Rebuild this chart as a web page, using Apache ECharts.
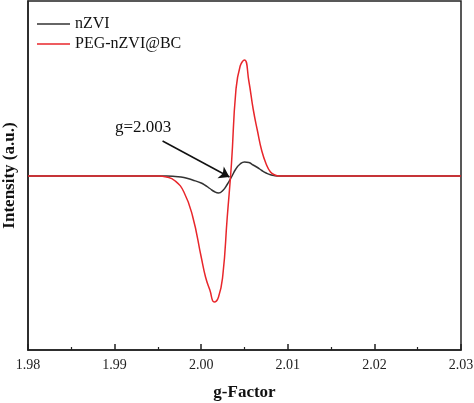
<!DOCTYPE html>
<html>
<head>
<meta charset="utf-8">
<script src="https://cdn.jsdelivr.net/npm/echarts@6/dist/echarts.min.js"></script>
<style>
  html, body { margin: 0; padding: 0; background: #fff; }
  #chart { width: 474px; height: 403px; }
</style>
</head>
<body>
<div id="chart"></div>
<script>
  // g values (x) and EPR intensities (arbitrary units)
  const gValues = [1.98, 1.99, 1.995, 1.996, 1.997, 1.998, 1.999, 2.000, 2.0005, 2.001, 2.0015, 2.002,
    2.0025, 2.003, 2.0035, 2.004, 2.0045, 2.005, 2.0055, 2.006, 2.0065, 2.007,
    2.0075, 2.008, 2.0085, 2.009, 2.01, 2.02, 2.03];
  const nZVI = [0, 0, 0, 0, -0.5, -1.5, -4, -7, -9.5, -12.5, -15.5, -17,
    -14.5, -8.5, -1, 7, 12, 14, 13.5, 11, 8.5, 5.5,
    3, 1.2, 0.3, 0, 0, 0, 0];
  const pegNZVI = [0, 0, 0, -1, -5, -16, -40, -81, -101, -114, -126, -121,
    -99, -42, 13, 85, 110, 116, 95, 67, 45, 25,
    12, 4, 1, 0, 0, 0, 0];
  const seriesNames = ['nZVI', 'PEG-nZVI@BC'];
  const xTicks = [1.98, 1.99, 2.00, 2.01, 2.02, 2.03];
  // arrow pointing at the crossing, g=2.003
  const arrowStart = [1.99554, 35];
  const arrowEnd = [2.00326, -1];

  const font = 'Liberation Serif';
  const pair = (ys) => gValues.map((g, i) => [g, ys[i]]);

  const chart = echarts.init(document.getElementById('chart'));
  chart.setOption({
    animation: false,
    grid: {
      left: 28, right: 13, top: 1, bottom: 53,
      outerBoundsMode: 'none', containLabel: false,
      show: true, borderColor: '#222', borderWidth: 1.5
    },
    legend: {
      data: seriesNames,
      orient: 'vertical',
      left: 37, top: 16, padding: 0,
      icon: 'rect',
      itemWidth: 33, itemHeight: 1.5, itemGap: 4,
      textStyle: { fontFamily: font, fontSize: 16, color: '#111' }
    },
    xAxis: {
      type: 'value',
      min: xTicks[0], max: xTicks[xTicks.length - 1], interval: 0.01,
      name: 'g-Factor', nameLocation: 'middle', nameGap: 34,
      nameTextStyle: { fontFamily: font, fontSize: 17, fontWeight: 'bold', color: '#111' },
      axisLine: { onZero: false, lineStyle: { color: '#222', width: 1.5 } },
      axisTick: { inside: true, length: 6, lineStyle: { color: '#222', width: 1.5 } },
      minorTick: { show: true, splitNumber: 2, length: 3, lineStyle: { color: '#222', width: 1.2 } },
      axisLabel: {
        fontFamily: font, fontSize: 14, color: '#222', margin: 8,
        formatter: (v) => v.toFixed(2)
      },
      splitLine: { show: false }
    },
    yAxis: {
      type: 'value', min: -174, max: 175,
      name: 'Intensity (a.u.)', nameLocation: 'middle', nameGap: 10,
      nameTextStyle: { fontFamily: font, fontSize: 17, fontWeight: 'bold', color: '#111' },
      axisLine: { show: true, onZero: false, lineStyle: { color: '#222', width: 1.5 } },
      axisTick: { show: false },
      axisLabel: { show: false },
      splitLine: { show: false }
    },
    graphic: [{
      type: 'text', left: 115, top: 119,
      style: { text: 'g=2.003', fontFamily: font, fontSize: 17, fill: '#111' }
    }],
    series: [
      {
        name: seriesNames[0], type: 'line', smooth: 0.5, symbol: 'none',
        itemStyle: { color: '#333' },
        lineStyle: { color: '#333', width: 1.5 },
        data: pair(nZVI)
      },
      {
        name: seriesNames[1], type: 'line', smooth: 0.5, symbol: 'none',
        itemStyle: { color: '#e8262b' },
        lineStyle: { color: '#e8262b', width: 1.5 },
        data: pair(pegNZVI),
        markLine: {
          silent: true, symbol: ['none', 'arrow'], symbolSize: 10,
          itemStyle: { color: '#111' },
          lineStyle: { color: '#111', width: 1.5, type: 'solid' },
          label: { show: false },
          data: [[{ coord: arrowStart }, { coord: arrowEnd }]]
        }
      }
    ]
  });
</script>
</body>
</html>
